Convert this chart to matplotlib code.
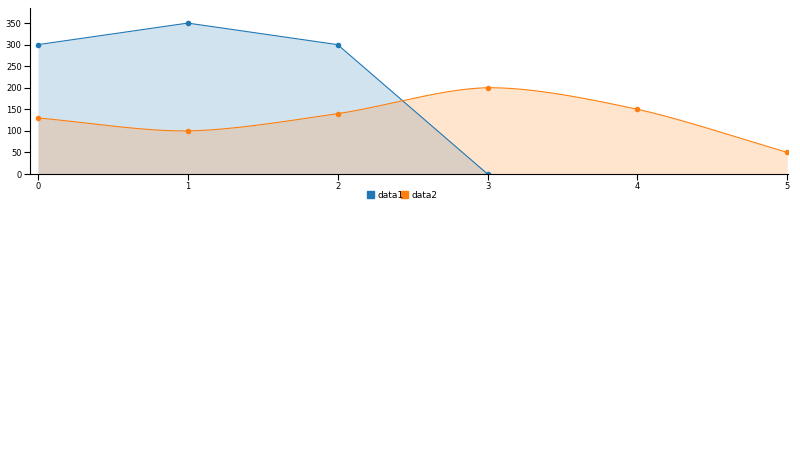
import numpy as np
import matplotlib
matplotlib.use("Agg")
import matplotlib.pyplot as plt
from matplotlib.patches import Rectangle

x1 = [0, 1, 2, 3]
data1 = [300, 350, 300, 0]
x2 = [0, 1, 2, 3, 4, 5]
data2 = [130, 100, 140, 200, 150, 50]
c1, c2 = "#1f77b4", "#ff7f0e"

def cardinal(xs, ys, tension=0.7, n=30):
    p = np.column_stack([xs, ys]).astype(float)
    k = (1 - tension) / 2
    m = len(p)
    t = np.zeros_like(p)
    for i in range(m):
        a = p[min(i + 1, m - 1)]
        b = p[max(i - 1, 0)]
        t[i] = k * (a - b) * (2 if i in (0, m - 1) else 1)
    out = []
    for i in range(m - 1):
        P0, P3 = p[i], p[i + 1]
        P1, P2 = P0 + t[i], P3 - t[i + 1]
        s = np.linspace(0, 1, n)[:, None]
        out.append((1 - s) ** 3 * P0 + 3 * (1 - s) ** 2 * s * P1 + 3 * (1 - s) * s ** 2 * P2 + s ** 3 * P3)
    c = np.vstack(out)
    return c[:, 0], c[:, 1]

fig = plt.figure(figsize=(8, 4.5), dpi=100)
ax = fig.add_axes([30 / 800, (450 - 174) / 450, 758 / 800, 166 / 450])
ax.fill_between(x1, data1, 0, color=c1, alpha=0.2, lw=0)
ax.plot(x1, data1, color=c1, lw=0.8)
ax.plot(x1, data1, "o", color=c1, ms=3)
sx, sy = cardinal(x2, data2)
ax.fill_between(sx, sy, 0, color=c2, alpha=0.2, lw=0)
ax.plot(sx, sy, color=c2, lw=0.8)
ax.plot(x2, data2, "o", color=c2, ms=3)

ax.set_xlim(-0.053, 5.005)
ax.set_ylim(0, 385)
ax.set_xticks(range(6))
ax.set_yticks(range(0, 351, 50))
for s in ("top", "right"):
    ax.spines[s].set_visible(False)
for s in ("left", "bottom"):
    ax.spines[s].set_linewidth(0.8)
ax.tick_params(labelsize=6, length=4, width=0.8, pad=2)

fig.patches.append(Rectangle((367 / 800, 1 - 198 / 450), 7 / 800, 7 / 450, transform=fig.transFigure, color=c1))
fig.text(377 / 800, 1 - 195 / 450, "data1", fontsize=6.5, va="center")
fig.patches.append(Rectangle((401 / 800, 1 - 198 / 450), 7 / 800, 7 / 450, transform=fig.transFigure, color=c2))
fig.text(411 / 800, 1 - 195 / 450, "data2", fontsize=6.5, va="center")

fig.savefig("out.png", dpi=100)
